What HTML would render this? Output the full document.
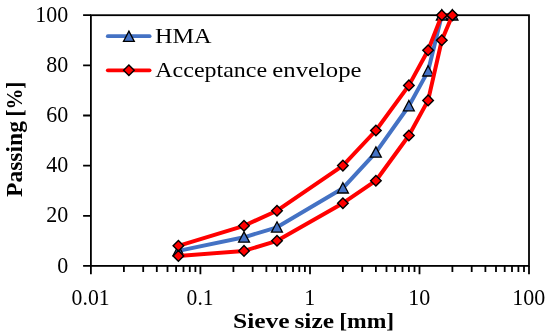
<!DOCTYPE html><html><head><meta charset="utf-8"><title>Chart</title><style>html,body{margin:0;padding:0;background:#fff}svg{display:block}</style></head><body><svg width="550" height="335" viewBox="0 0 550 335">
<rect width="550" height="335" fill="#fff"/>
<rect x="90.9" y="15.2" width="438.1" height="250.7" fill="none" stroke="#000" stroke-width="1.8"/>
<path d="M83.1 265.9H90.9M83.1 215.8H90.9M83.1 165.6H90.9M83.1 115.5H90.9M83.1 65.3H90.9M83.1 15.2H90.9M90.9 265.9V274.2M123.9 265.9V271.9M143.2 265.9V271.9M156.8 265.9V271.9M167.5 265.9V271.9M176.1 265.9V271.9M183.5 265.9V271.9M189.8 265.9V271.9M195.4 265.9V271.9M200.4 265.9V274.2M233.4 265.9V271.9M252.7 265.9V271.9M266.4 265.9V271.9M277.0 265.9V271.9M285.7 265.9V271.9M293.0 265.9V271.9M299.3 265.9V271.9M304.9 265.9V271.9M310.0 265.9V274.2M342.9 265.9V271.9M362.2 265.9V271.9M375.9 265.9V271.9M386.5 265.9V271.9M395.2 265.9V271.9M402.5 265.9V271.9M408.9 265.9V271.9M414.5 265.9V271.9M419.5 265.9V274.2M452.4 265.9V271.9M471.7 265.9V271.9M485.4 265.9V271.9M496.0 265.9V271.9M504.7 265.9V271.9M512.0 265.9V271.9M518.4 265.9V271.9M524.0 265.9V271.9M529.0 265.9V274.2" stroke="#000" stroke-width="1.8" fill="none"/>
<polyline fill="none" stroke="#4472C4" stroke-width="4.0" stroke-linejoin="round" stroke-linecap="round" points="178.4,250.9 244.0,237.3 277.0,227.3 342.9,188.2 375.9,152.3 408.9,106.0 428.1,71.1 441.8,15.2 452.4,15.2"/>
<path d="M178.4 245.4L183.9 255.7L173.0 255.7Z" fill="#4472C4" stroke="#000" stroke-width="1.3" stroke-linejoin="miter"/>
<path d="M244.0 231.9L249.5 242.2L238.6 242.2Z" fill="#4472C4" stroke="#000" stroke-width="1.3" stroke-linejoin="miter"/>
<path d="M277.0 221.8L282.4 232.1L271.5 232.1Z" fill="#4472C4" stroke="#000" stroke-width="1.3" stroke-linejoin="miter"/>
<path d="M342.9 182.7L348.4 193.0L337.5 193.0Z" fill="#4472C4" stroke="#000" stroke-width="1.3" stroke-linejoin="miter"/>
<path d="M375.9 146.9L381.3 157.2L370.4 157.2Z" fill="#4472C4" stroke="#000" stroke-width="1.3" stroke-linejoin="miter"/>
<path d="M408.9 100.5L414.3 110.8L403.4 110.8Z" fill="#4472C4" stroke="#000" stroke-width="1.3" stroke-linejoin="miter"/>
<path d="M428.1 65.7L433.6 76.0L422.7 76.0Z" fill="#4472C4" stroke="#000" stroke-width="1.3" stroke-linejoin="miter"/>
<path d="M441.8 9.7L447.3 20.0L436.4 20.0Z" fill="#4472C4" stroke="#000" stroke-width="1.3" stroke-linejoin="miter"/>
<path d="M452.4 9.7L457.9 20.0L447.0 20.0Z" fill="#4472C4" stroke="#000" stroke-width="1.3" stroke-linejoin="miter"/>
<polyline fill="none" stroke="#FF0000" stroke-width="4.0" stroke-linejoin="round" stroke-linecap="round" points="178.4,245.8 244.0,225.8 277.0,210.7 342.9,165.6 375.9,130.5 408.9,85.4 428.1,50.3 441.8,15.2 452.4,15.2"/>
<path d="M178.4 240.5L183.7 245.8L178.4 251.1L173.1 245.8Z" fill="#FF0000" stroke="#000" stroke-width="1.4"/>
<path d="M244.0 220.5L249.3 225.8L244.0 231.1L238.7 225.8Z" fill="#FF0000" stroke="#000" stroke-width="1.4"/>
<path d="M277.0 205.4L282.3 210.7L277.0 216.0L271.7 210.7Z" fill="#FF0000" stroke="#000" stroke-width="1.4"/>
<path d="M342.9 160.3L348.2 165.6L342.9 170.9L337.6 165.6Z" fill="#FF0000" stroke="#000" stroke-width="1.4"/>
<path d="M375.9 125.2L381.2 130.5L375.9 135.8L370.6 130.5Z" fill="#FF0000" stroke="#000" stroke-width="1.4"/>
<path d="M408.9 80.1L414.2 85.4L408.9 90.7L403.6 85.4Z" fill="#FF0000" stroke="#000" stroke-width="1.4"/>
<path d="M428.1 45.0L433.4 50.3L428.1 55.6L422.8 50.3Z" fill="#FF0000" stroke="#000" stroke-width="1.4"/>
<path d="M441.8 9.9L447.1 15.2L441.8 20.5L436.5 15.2Z" fill="#FF0000" stroke="#000" stroke-width="1.4"/>
<path d="M452.4 9.9L457.7 15.2L452.4 20.5L447.1 15.2Z" fill="#FF0000" stroke="#000" stroke-width="1.4"/>
<polyline fill="none" stroke="#FF0000" stroke-width="4.0" stroke-linejoin="round" stroke-linecap="round" points="178.4,255.9 244.0,250.9 277.0,240.8 342.9,203.2 375.9,180.7 408.9,135.5 428.1,100.4 441.8,40.3 452.4,15.2"/>
<path d="M178.4 250.6L183.7 255.9L178.4 261.2L173.1 255.9Z" fill="#FF0000" stroke="#000" stroke-width="1.4"/>
<path d="M244.0 245.6L249.3 250.9L244.0 256.2L238.7 250.9Z" fill="#FF0000" stroke="#000" stroke-width="1.4"/>
<path d="M277.0 235.5L282.3 240.8L277.0 246.1L271.7 240.8Z" fill="#FF0000" stroke="#000" stroke-width="1.4"/>
<path d="M342.9 197.9L348.2 203.2L342.9 208.5L337.6 203.2Z" fill="#FF0000" stroke="#000" stroke-width="1.4"/>
<path d="M375.9 175.4L381.2 180.7L375.9 186.0L370.6 180.7Z" fill="#FF0000" stroke="#000" stroke-width="1.4"/>
<path d="M408.9 130.2L414.2 135.5L408.9 140.8L403.6 135.5Z" fill="#FF0000" stroke="#000" stroke-width="1.4"/>
<path d="M428.1 95.1L433.4 100.4L428.1 105.7L422.8 100.4Z" fill="#FF0000" stroke="#000" stroke-width="1.4"/>
<path d="M441.8 35.0L447.1 40.3L441.8 45.6L436.5 40.3Z" fill="#FF0000" stroke="#000" stroke-width="1.4"/>
<path d="M452.4 9.9L457.7 15.2L452.4 20.5L447.1 15.2Z" fill="#FF0000" stroke="#000" stroke-width="1.4"/>
<path d="M107.8 36.2H149.6" stroke="#4472C4" stroke-width="3.8" stroke-linecap="round"/>
<path d="M128.9 31.1L134.3 41.4L123.5 41.4Z" fill="#4472C4" stroke="#000" stroke-width="1.3" stroke-linejoin="miter"/>
<path d="M107.8 70.3H149.6" stroke="#FF0000" stroke-width="3.8" stroke-linecap="round"/>
<path d="M128.9 65.0L134.2 70.3L128.9 75.6L123.6 70.3Z" fill="#FF0000" stroke="#000" stroke-width="1.4"/>
<g font-family="'Liberation Serif', serif" font-size="21.9px" fill="#000">
<g font-size="21.5px">
<text x="154.9" y="42.6" textLength="56.6" lengthAdjust="spacingAndGlyphs">HMA</text>
<text x="155.3" y="76.6" textLength="111.8" lengthAdjust="spacingAndGlyphs">Acceptance</text>
<text x="272.3" y="76.6" textLength="89.3" lengthAdjust="spacingAndGlyphs">envelope</text>
</g>
<g font-size="23.8px">
<text x="68.3" y="272.5" text-anchor="end" textLength="11.00" lengthAdjust="spacingAndGlyphs">0</text>
<text x="68.3" y="222.4" text-anchor="end" textLength="22.00" lengthAdjust="spacingAndGlyphs">20</text>
<text x="68.3" y="172.2" text-anchor="end" textLength="22.00" lengthAdjust="spacingAndGlyphs">40</text>
<text x="68.3" y="122.1" text-anchor="end" textLength="22.00" lengthAdjust="spacingAndGlyphs">60</text>
<text x="68.3" y="71.9" text-anchor="end" textLength="22.00" lengthAdjust="spacingAndGlyphs">80</text>
<text x="68.3" y="21.8" text-anchor="end" textLength="33.00" lengthAdjust="spacingAndGlyphs">100</text>
<text x="90.9" y="305.1" text-anchor="middle" dx="-0.3" textLength="38.00" lengthAdjust="spacingAndGlyphs">0.01</text>
<text x="200.4" y="305.1" text-anchor="middle" dx="-0.3" textLength="27.00" lengthAdjust="spacingAndGlyphs">0.1</text>
<text x="310.0" y="305.1" text-anchor="middle" dx="-0.3" textLength="11.00" lengthAdjust="spacingAndGlyphs">1</text>
<text x="419.5" y="305.1" text-anchor="middle" dx="-0.3" textLength="22.00" lengthAdjust="spacingAndGlyphs">10</text>
<text x="529.0" y="305.1" text-anchor="middle" dx="-0.3" textLength="33.00" lengthAdjust="spacingAndGlyphs">100</text>
</g>
<g font-weight="bold" font-size="22px">
<text x="233.0" y="328.4" textLength="56.6" lengthAdjust="spacingAndGlyphs">Sieve</text>
<text x="294.4" y="328.4" textLength="39.6" lengthAdjust="spacingAndGlyphs">size</text>
<text x="339.2" y="328.4" textLength="55" lengthAdjust="spacingAndGlyphs">[mm]</text>
</g>
<g font-weight="bold" font-size="23px">
<text transform="translate(22.4 196.9) rotate(-90)" textLength="75.8" lengthAdjust="spacingAndGlyphs">Passing</text>
<text transform="translate(22.4 116.5) rotate(-90)" textLength="34.8" lengthAdjust="spacingAndGlyphs">[%]</text>
</g>
</g></svg></body></html>
